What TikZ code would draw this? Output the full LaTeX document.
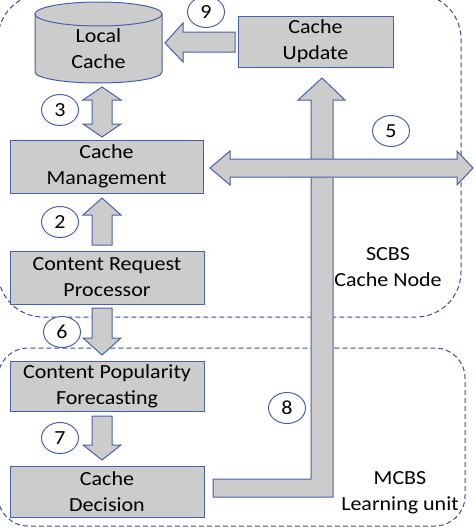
\documentclass[tikz,border=0pt]{standalone}
\usepackage{fontspec}
\setmainfont{Carlito}[FakeStretch=1.1]
\usetikzlibrary{shapes.geometric}
\definecolor{bfill}{RGB}{204,204,204}
\definecolor{bline}{RGB}{68,98,170}
\definecolor{dline}{RGB}{50,80,150}
\tikzset{
  region/.style={draw=dline, line width=1pt, dash pattern=on 5pt off 3pt},
  boxnode/.style={draw=bline, fill=bfill, line width=1pt, align=center, inner sep=0pt},
  barrow/.style={draw=bline, fill=bfill, line width=1pt, line join=miter},
  numc/.style={draw=bline, fill=white, line width=1pt, ellipse, minimum width=37pt, minimum height=31pt, inner sep=0pt},
  lbl/.style={align=center, inner sep=0pt}
}
\begin{document}
\begin{tikzpicture}[x=1pt,y=-1pt,font=\fontsize{20}{26}\selectfont]
\useasboundingbox (0,0) rectangle (474,530);
% regions
\draw[region, rounded corners=45pt] (-2,-6) rectangle (461,317);
\draw[region, rounded corners=30pt] (-2,348) rectangle (465,526);
% cylinder
\path[barrow] (35,14) -- (35,72) .. controls (35,78.1) and (63.4,83) .. (98.5,83)
  .. controls (133.6,83) and (162,78.1) .. (162,72) -- (162,14) -- cycle;
\path[barrow] (98.5,14) ellipse [x radius=63.5, y radius=12];
\node[lbl] (lc) at (98.5,49) {Local\\Cache};
% boxes
\node[boxnode, minimum width=155pt, minimum height=51pt] (cu) at (315.5,41.5) {Cache\\Update};
\node[boxnode, minimum width=193pt, minimum height=53pt] (cm) at (106.5,166.5) {Cache\\Management};
\node[boxnode, minimum width=194pt, minimum height=53pt] (crp) at (107,277.5) {Content Request\\Processor};
\node[boxnode, minimum width=194pt, minimum height=50pt] (cpf) at (107,386) {Content Popularity\\Forecasting};
\node[boxnode, minimum width=194pt, minimum height=51pt] (cd) at (107,491.5) {Cache\\Decision};
% block arrows
\path[barrow] (235,32) -- (183,32) -- (183,23) -- (165,43) -- (183,62) -- (183,52) -- (235,52) -- cycle;
\path[barrow] (92,100) -- (83,100) -- (102,87) -- (121,100) -- (112,100) -- (112,124) -- (121,124) -- (102,137) -- (83,124) -- (92,124) -- cycle;
\path[barrow] (92,245) -- (92,215) -- (83,215) -- (102,198) -- (121,215) -- (112,215) -- (112,245) -- cycle;
\path[barrow] (92,308) -- (92,338) -- (83,338) -- (102,355) -- (121,338) -- (112,338) -- (112,308) -- cycle;
\path[barrow] (92,416) -- (92,445) -- (83,445) -- (102,460) -- (121,445) -- (112,445) -- (112,416) -- cycle;
\path[barrow] (213,479) -- (311,479) -- (311,100) -- (298,100) -- (322,78) -- (345,100) -- (333,100) -- (333,497) -- (213,497) -- cycle;
\path[barrow] (230,159) -- (230,151) -- (210,168) -- (230,185) -- (230,177) -- (457,177) -- (457,185) -- (473,168) -- (457,151) -- (457,159) -- cycle;
% numbers
\node[numc] (n9) at (206,12) {9};
\node[numc] (n3) at (60,110) {3};
\node[numc] (n5) at (391,131) {5};
\node[numc] (n2) at (60,222) {2};
\node[numc] (n6) at (62,332) {6};
\node[numc] (n7) at (60,438) {7};
\node[numc] (n8) at (287,408) {8};
% labels
\node[lbl] (scbs) at (388,267.5) {SCBS\\Cache Node};
\node[lbl] (mcbs) at (400,492.5) {MCBS\\Learning unit};
\end{tikzpicture}
\end{document}
